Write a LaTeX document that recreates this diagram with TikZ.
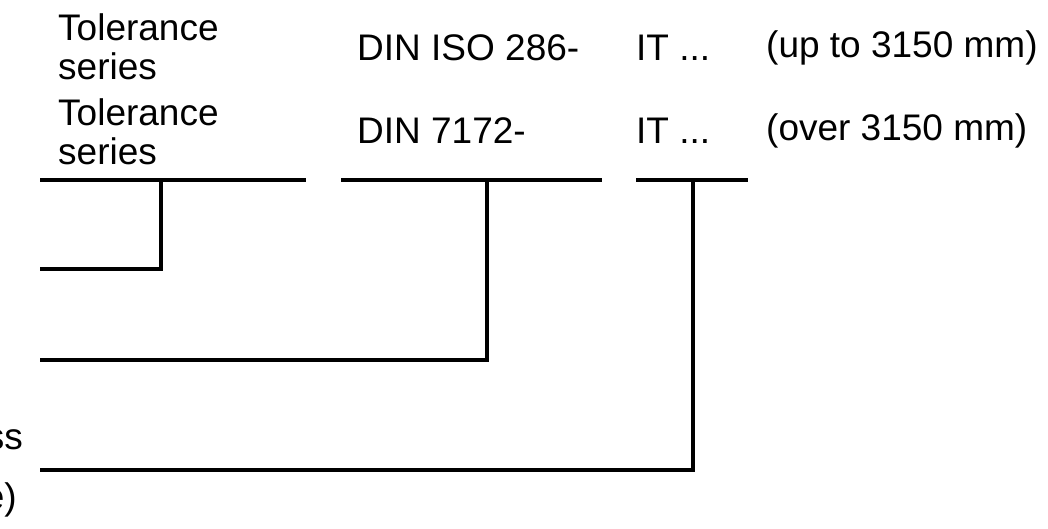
\documentclass[tikz,border=0pt]{standalone}
\usepackage{fontspec}
\setmainfont{Liberation Sans}
\begin{document}
\begin{tikzpicture}[x=1pt,y=-1pt,
  txt/.style={inner sep=0pt,font=\fontsize{37}{39}\selectfont},
  ln/.style={line width=3.5pt}]
\useasboundingbox (0,0) rectangle (1048,529);
\node[txt,anchor=west,align=left] (t1) at (58,47) {Tolerance\\series};
\node[txt,anchor=west] (d1) at (357,48) {DIN ISO 286-};
\node[txt,anchor=west] (i1) at (636,48) {IT ...};
\node[txt,anchor=west] (u1) at (766,48) {(up to 3150 mm)};
\node[txt,anchor=west,align=left] (t2) at (58,132) {Tolerance\\series};
\node[txt,anchor=west] (d2) at (357,131) {DIN 7172-};
\node[txt,anchor=west] (i2) at (636,131) {IT ...};
\node[txt,anchor=west] (u2) at (766,131) {(over 3150 mm)};
\node[txt,anchor=east] (s1) at (23,440) {ss};
\node[txt,anchor=east] (s2) at (17,500) {e)};
\coordinate (a1) at (40,180); \coordinate (a2) at (306,180);
\coordinate (b1) at (341,180); \coordinate (b2) at (602,180);
\coordinate (c1) at (636,180); \coordinate (c2) at (748,180);
\coordinate (v1) at (161,180); \coordinate (v2) at (487,180); \coordinate (v3) at (693,180);
\coordinate (e1) at (40,269); \coordinate (e2) at (40,360); \coordinate (e3) at (40,470);
\draw[ln] (a1) -- (a2);
\draw[ln] (b1) -- (b2);
\draw[ln] (c1) -- (c2);
\draw[ln] (v1) |- (e1);
\draw[ln] (v2) |- (e2);
\draw[ln] (v3) |- (e3);
\end{tikzpicture}
\end{document}
